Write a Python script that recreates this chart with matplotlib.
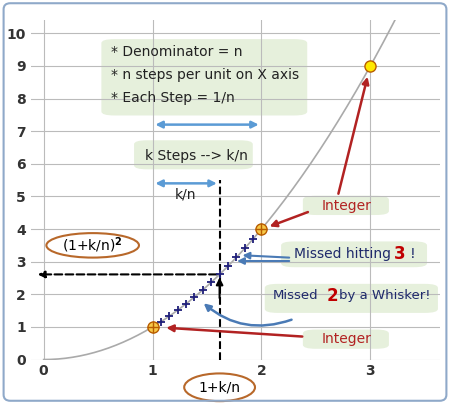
import numpy as np
import matplotlib.pyplot as plt
from matplotlib.patches import Ellipse, FancyBboxPatch

n = 13
k = 8
x_ticks = [0, 1, 2, 3]
y_ticks = list(range(0, 11))
steps = [1 + i / n for i in range(1, n)]
integers = [1, 2, 3]

fig = plt.figure(figsize=(4.5, 4.04), dpi=100)
ax = fig.add_axes([0.068, 0.11, 0.91, 0.84])
xc = np.linspace(0, 3.3, 200)
ax.plot(xc, xc ** 2, color='#aaaaaa', lw=1.2, zorder=2)
ax.set_xlim(-0.12, 3.64)
ax.set_ylim(0, 10.4)
ax.set_xticks(x_ticks)
ax.set_yticks(y_ticks)
ax.grid(True, color='#bbbbbb', lw=0.8)
ax.tick_params(length=0, labelsize=10)
for lab in ax.get_xticklabels() + ax.get_yticklabels():
    lab.set_fontweight('bold')
    lab.set_color('#333333')
for s in ax.spines.values():
    s.set_visible(False)

ax.plot(steps, [s ** 2 for s in steps], '+', color='#1f1f7a', ms=6, mew=1.3, zorder=4)
ax.plot(integers[:2], [1, 4], 'o', ms=8, mfc='#f7c948', mec='#b85c00', zorder=5)
ax.plot(integers[:2], [1, 4], '+', ms=8, color='#b85c00', zorder=6)
ax.plot([3], [9], 'o', ms=8, mfc='#ffe800', mec='#b85c00', zorder=5)

xk = 1 + k / n
ax.plot([xk, xk], [0, 5.5], 'k--', lw=1.5, zorder=3)
ax.annotate('', xy=(-0.08, xk ** 2), xytext=(xk, xk ** 2),
            arrowprops=dict(arrowstyle='-|>', ls='--', color='k', lw=1.5))
ax.annotate('', xy=(xk, 2.6), xytext=(xk, 1.8),
            arrowprops=dict(arrowstyle='-|>', color='k', lw=1.5))

def box(x0, y0, w, h):
    ax.add_patch(FancyBboxPatch((x0, y0), w, h, boxstyle='round,pad=0.02,rounding_size=0.12',
                                fc='#e6f0dc', ec='none', zorder=1))

box(0.55, 7.5, 1.85, 2.3)
box(0.85, 5.85, 1.05, 0.85)
box(2.2, 2.85, 1.3, 0.75)
box(2.05, 1.45, 1.55, 0.85)
box(2.4, 4.45, 0.75, 0.55)
box(2.4, 0.35, 0.75, 0.55)

tkw = dict(fontsize=10, color='#222222', zorder=7)
ax.text(0.62, 9.3, '* Denominator = n', **tkw)
ax.text(0.62, 8.6, '* n steps per unit on X axis', **tkw)
ax.text(0.62, 7.9, '* Each Step = 1/n', **tkw)
ax.annotate('', xy=(1, 7.2), xytext=(2, 7.2),
            arrowprops=dict(arrowstyle='<|-|>', color='#5b9bd5', lw=1.8))
ax.text(1.4, 6.25, 'k Steps --> k/n', ha='center', va='center', **tkw)
ax.annotate('', xy=(1, 5.4), xytext=(xk, 5.4),
            arrowprops=dict(arrowstyle='<|-|>', color='#5b9bd5', lw=1.8))
ax.text(1.3, 5.05, 'k/n', ha='center', va='center', **tkw)

ax.text(2.78, 4.72, 'Integer', ha='center', va='center', fontsize=10, color='#b22222', zorder=7)
ax.annotate('', xy=(2.05, 4.05), xytext=(2.45, 4.55),
            arrowprops=dict(arrowstyle='-|>', color='#b22222', lw=1.8))
ax.annotate('', xy=(2.98, 8.75), xytext=(2.7, 5.0),
            arrowprops=dict(arrowstyle='-|>', color='#b22222', lw=1.8))
ax.text(2.78, 0.62, 'Integer', ha='center', va='center', fontsize=10, color='#b22222', zorder=7)
ax.annotate('', xy=(1.1, 0.98), xytext=(2.4, 0.7),
            arrowprops=dict(arrowstyle='-|>', color='#b22222', lw=1.8))

ax.text(2.3, 3.22, 'Missed hitting', ha='left', va='center', fontsize=10, color='#1f2a6b', zorder=7)
ax.text(3.22, 3.22, '3', ha='left', va='center', fontsize=12, fontweight='bold', color='#c00000', zorder=7)
ax.text(3.36, 3.22, '!', ha='left', va='center', fontsize=10, color='#1f2a6b', zorder=7)
ax.annotate('', xy=(1.8, 3.2), xytext=(2.28, 3.12),
            arrowprops=dict(arrowstyle='-|>', color='#4a7ab5', lw=1.5))
ax.annotate('', xy=(1.75, 3.02), xytext=(2.28, 3.02),
            arrowprops=dict(arrowstyle='-|>', color='#4a7ab5', lw=1.5))
ax.text(2.1, 1.95, 'Missed', ha='left', va='center', fontsize=9.5, color='#1f2a6b', zorder=7)
ax.text(2.6, 1.95, '2', ha='left', va='center', fontsize=12, fontweight='bold', color='#c00000', zorder=7)
ax.text(2.71, 1.95, 'by a Whisker!', ha='left', va='center', fontsize=9.5, color='#1f2a6b', zorder=7)
ax.annotate('', xy=(1.45, 1.78), xytext=(2.3, 1.25),
            arrowprops=dict(arrowstyle='-|>', color='#4a7ab5', lw=1.8,
                            connectionstyle='arc3,rad=-0.3'))

ax.add_patch(Ellipse((0.45, 3.5), 0.85, 0.75, fc='white', ec='#b8682a', lw=1.5, zorder=6))
ax.text(0.45, 3.5, '(1+k/n)$^\\mathbf{2}$', ha='center', va='center', fontsize=10, zorder=7)
ax.add_patch(Ellipse((xk, -0.85), 0.65, 0.85, fc='white', ec='#b8682a', lw=1.5, zorder=6, clip_on=False))
ax.text(xk, -0.85, '1+k/n', ha='center', va='center', fontsize=10, zorder=7, clip_on=False)

fig.patches.append(FancyBboxPatch((0.008, 0.008), 0.984, 0.984, boxstyle='round,pad=0,rounding_size=0.015',
                                  transform=fig.transFigure, fc='none', ec='#8fa9c9', lw=1.5))
fig.savefig('out.png')
